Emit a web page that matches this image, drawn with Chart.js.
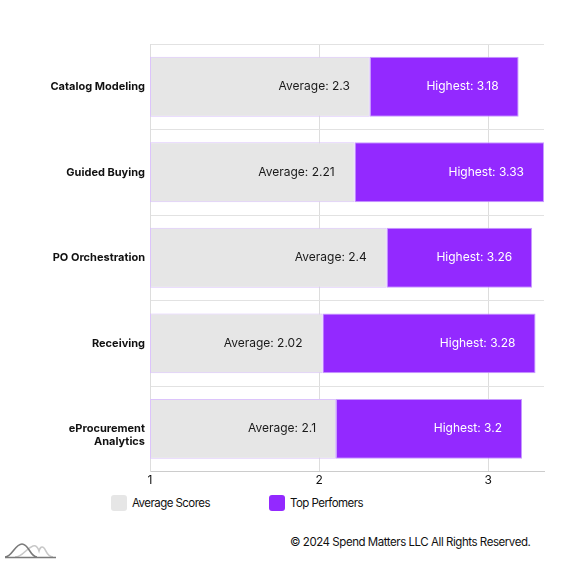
<!DOCTYPE html>
<html>
<head>
<meta charset="utf-8">
<script src="https://cdn.jsdelivr.net/npm/chart.js@4.4.1/dist/chart.umd.min.js"></script>
<style>
  html, body { margin: 0; padding: 0; background: #ffffff; }
  #wrap { position: relative; width: 563px; height: 563px; font-family: Inter, "Open Sans", sans-serif; color: #111; }
  #chartBox { position: absolute; left: 0; top: 0; width: 563px; height: 490px; }
  .legend { position: absolute; top: 495px; display: flex; align-items: center; font-size: 11.5px; letter-spacing: -0.55px; }
  .legend .sw { width: 16px; height: 16px; border-radius: 3px; margin-right: 5px; }
  #copy { position: absolute; left: 290px; top: 535px; font-size: 11.5px; letter-spacing: -0.45px; white-space: nowrap; }
  #logo { position: absolute; left: 3px; top: 540px; }
</style>
</head>
<body>
<div id="wrap">
  <div id="chartBox"><canvas id="c"></canvas></div>
  <div class="legend" style="left:111px"><div class="sw" style="background:#e6e6e6"></div><span id="lg0"></span></div>
  <div class="legend" style="left:269px"><div class="sw" style="background:#9329ff"></div><span id="lg1"></span></div>
  <div id="copy">© 2024 Spend Matters LLC All Rights Reserved.</div>
  <svg id="logo" width="56" height="20" viewBox="0 0 56 20">
    <path d="M12 17 C20 17 22 9 30 6 C33 5 35 8 36 11 C37 7 39 6 41 8 C43 10 44 17 50 17" fill="none" stroke="#c8c8c8" stroke-width="1.6"/>
    <path d="M2 17 C9 17 12 4 19 4 C26 4 27 17 34 17" fill="none" stroke="#7a7a7a" stroke-width="1.6"/>
    <line x1="2" y1="17.5" x2="53" y2="17.5" stroke="#7a7a7a" stroke-width="1.6"/>
  </svg>
</div>
<script>
const categories = ["Catalog Modeling", "Guided Buying", "PO Orchestration", "Receiving", ["eProcurement", "Analytics"]];
const averageScores = [2.3, 2.21, 2.4, 2.02, 2.1];
const highestScores = [3.18, 3.33, 3.26, 3.28, 3.2];
const seriesNames = ["Average Scores", "Top Perfomers"];
const xTicks = [1, 2, 3];
const axisMin = 1;

document.getElementById('lg0').textContent = seriesNames[0];
document.getElementById('lg1').textContent = seriesNames[1];

const FONT = 'Inter, "Open Sans", sans-serif';

const labelPlugin = {
  id: 'barLabels',
  afterDatasetsDraw(chart) {
    const ctx = chart.ctx;
    ctx.save();
    ctx.font = '12px ' + FONT;
    ctx.textAlign = 'right';
    ctx.textBaseline = 'middle';
    chart.data.datasets.forEach((ds, di) => {
      const meta = chart.getDatasetMeta(di);
      meta.data.forEach((bar, i) => {
        const v = di === 0 ? averageScores[i] : highestScores[i];
        const txt = (di === 0 ? 'Average: ' : 'Highest: ') + v;
        ctx.fillStyle = di === 0 ? '#1a1a1a' : '#ffffff';
        ctx.fillText(txt, bar.x - 20, bar.y);
      });
    });
    ctx.restore();
  }
};

new Chart(document.getElementById('c'), {
  type: 'bar',
  data: {
    labels: categories,
    datasets: [
      {
        label: seriesNames[0],
        data: averageScores.map(a => [axisMin, a]),
        backgroundColor: '#e6e6e6',
        borderColor: '#dcc4fb',
        borderWidth: 1,
        borderSkipped: false,
        grouped: false,
        barPercentage: 0.7,
        categoryPercentage: 1
      },
      {
        label: seriesNames[1],
        data: averageScores.map((a, i) => [a, highestScores[i]]),
        backgroundColor: '#9329ff',
        borderColor: '#c89cff',
        borderWidth: 1,
        borderSkipped: false,
        grouped: false,
        barPercentage: 0.7,
        categoryPercentage: 1
      }
    ]
  },
  options: {
    indexAxis: 'y',
    responsive: true,
    maintainAspectRatio: false,
    animation: false,
    layout: { padding: { top: 44, right: 19, left: 0, bottom: 0 } },
    plugins: {
      legend: { display: false },
      tooltip: { enabled: false }
    },
    scales: {
      x: {
        min: axisMin,
        max: Math.max(...highestScores),
        afterBuildTicks(scale) { scale.ticks = xTicks.map(v => ({ value: v })); },
        ticks: { color: '#111', font: { family: FONT, size: 12 }, padding: 2, includeBounds: false },
        grid: { color: '#dddddd', drawTicks: false },
        border: { color: '#cccccc' }
      },
      y: {
        afterFit(scale) { scale.width = 150; },
        ticks: {
          color: '#111',
          font: { family: FONT, size: 11, weight: 'bold' },
          padding: 5,
          callback(value) {
            const lab = categories[value];
            return Array.isArray(lab) ? [''].concat(lab) : lab;
          }
        },
        grid: { color: '#e2e2e2', drawTicks: false, offset: true },
        border: { color: '#dddddd' }
      }
    }
  },
  plugins: [labelPlugin]
});
</script>
</body>
</html>
